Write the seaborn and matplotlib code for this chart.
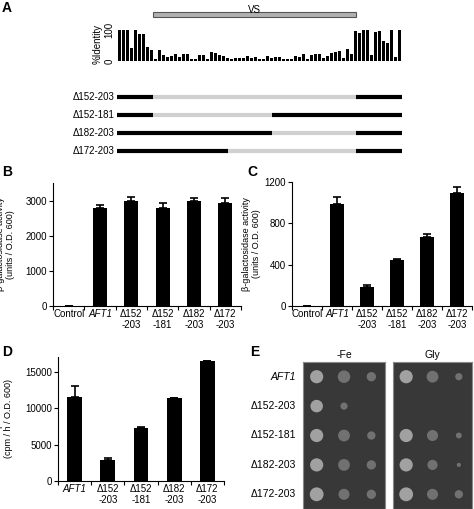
import numpy as np
import pandas as pd
import matplotlib
matplotlib.use("Agg")
import matplotlib.pyplot as plt
import seaborn as sns

# --- data ---
identity = [100, 100, 100, 40, 98, 85, 85, 45, 35, 5, 35, 18, 12, 15, 22, 12, 22, 22, 5, 5,
            18, 18, 5, 28, 25, 18, 15, 8, 5, 10, 10, 10, 15, 8, 12, 5, 5, 15, 8, 12, 12, 5,
            5, 5, 15, 12, 22, 5, 18, 22, 22, 8, 15, 25, 28, 32, 10, 38, 22, 95, 88, 100, 100,
            18, 92, 95, 65, 58, 100, 12, 100]
constructs = ["Δ152-203", "Δ152-181", "Δ182-203", "Δ172-203"]
# deleted region per construct (fraction of drawn line)
deleted = [(0.125, 0.84), (0.125, 0.545), (0.545, 0.84), (0.39, 0.84)]
vs_span = (0.125, 0.84)

cats_bc = ["Control", "AFT1", "Δ152\n-203", "Δ152\n-181", "Δ182\n-203", "Δ172\n-203"]
b_vals = [10, 2780, 3000, 2800, 3000, 2930]
b_err = [0, 80, 100, 120, 80, 150]
c_vals = [0, 985, 180, 445, 665, 1095]
c_err = [0, 70, 25, 10, 35, 55]
cats_d = ["AFT1", "Δ152\n-203", "Δ152\n-181", "Δ182\n-203", "Δ172\n-203"]
d_vals = [11500, 2900, 7300, 11350, 16500]
d_err = [1500, 250, 80, 50, 0]

strains_e = ["AFT1", "Δ152-203", "Δ152-181", "Δ182-203", "Δ172-203"]
# spot sizes per dilution (3 dilutions), 0 = no growth
spots_fe = [[1.0, 0.9, 0.5], [0.9, 0.3, 0.0], [1.0, 0.8, 0.4], [1.0, 0.8, 0.5], [1.1, 0.7, 0.5]]
spots_gly = [[1.0, 0.8, 0.3], [0.0, 0.0, 0.0], [1.0, 0.7, 0.2], [1.0, 0.6, 0.1], [1.1, 0.7, 0.4]]

plt.rcParams['font.family'] = ['Liberation Sans', 'DejaVu Sans']
W, H = 474, 509
fig = plt.figure(figsize=(W / 100, H / 100), dpi=100)


def px(x0, y0, x1, y1):
    return [x0 / W, 1 - y1 / H, (x1 - x0) / W, (y1 - y0) / H]


# ---------- A ----------
fig.text(2 / W, 1 - 8 / H, "A", fontsize=10, fontweight='bold', va='center')
axh = fig.add_axes(px(117, 28, 401, 61))
sns.barplot(x=list(range(len(identity))), y=identity, color='black', width=0.75,
            ax=axh, saturation=1)
axh.set_ylim(0, 105)
axh.set_xlim(-0.5, len(identity) - 0.5)
axh.set_xticks([])
axh.set_yticks([0, 100])
axh.set_yticklabels(["0", "100"], rotation=90, va='center', fontsize=7)
axh.tick_params(axis='y', length=0, pad=2)
axh.set_ylabel("%Identity", fontsize=7, labelpad=1)
for s in axh.spines.values():
    s.set_visible(False)

axv = fig.add_axes(px(117, 8, 401, 20))
axv.set_xlim(0, 1)
axv.set_ylim(0, 1)
axv.axis('off')
axv.add_patch(plt.Rectangle((vs_span[0], 0.25), vs_span[1] - vs_span[0], 0.4,
                            facecolor='#b0b0b0', edgecolor='#555555', lw=0.8))
axv.text(0.5 * (vs_span[0] + vs_span[1]), 0.85, "VS", ha='center', va='center', fontsize=7)

axc = fig.add_axes(px(117, 88, 402, 160))
axc.set_xlim(0, 1)
axc.set_ylim(len(constructs) - 0.5, -0.5)
axc.axis('off')
for i, (name, (d0, d1)) in enumerate(zip(constructs, deleted)):
    axc.plot([0, d0], [i, i], color='black', lw=3, solid_capstyle='butt')
    axc.plot([d0, d1], [i, i], color='#d0d0d0', lw=3, solid_capstyle='butt')
    axc.plot([d1, 1], [i, i], color='black', lw=3, solid_capstyle='butt')
    axc.text(-0.01, i, name, ha='right', va='center', fontsize=7)


# ---------- bar panels ----------
def bar_panel(rect, cats, vals, errs, ylim, yticks, ylabel, letter, lpos, label_x):
    ax = fig.add_axes(px(*rect))
    df = pd.DataFrame({"cat": cats, "val": vals})
    sns.barplot(data=df, x="cat", y="val", color='black', saturation=1, width=0.45, ax=ax)
    ax.errorbar(range(len(vals)), vals, yerr=[np.zeros(len(errs)), errs], fmt='none',
                ecolor='black', elinewidth=1.2, capsize=3, capthick=1.2)
    ax.set_ylim(*ylim)
    ax.set_xlim(-0.5, len(cats) - 0.5)
    ax.set_yticks(yticks)
    ax.tick_params(axis='y', labelsize=7, length=3, width=0.8, pad=1.5)
    ax.set_xticks(np.arange(len(cats) + 1) - 0.5, minor=True)
    ax.tick_params(axis='x', which='minor', length=3, width=0.8)
    ax.tick_params(axis='x', which='major', length=0, labelsize=7, pad=2)
    for t in ax.get_xticklabels():
        if t.get_text() == "AFT1":
            t.set_style('italic')
    ax.set_xlabel("")
    ax.set_ylabel(ylabel, fontsize=6.5, linespacing=1.1)
    # place the y label by pixel so it stays inside the figure
    bb = ax.get_position()
    ax.yaxis.set_label_coords((label_x / W - bb.x0) / bb.width, 0.5)
    for s in ['top', 'right']:
        ax.spines[s].set_visible(False)
    for s in ['left', 'bottom']:
        ax.spines[s].set_linewidth(0.8)
    fig.text(lpos[0] / W, 1 - lpos[1] / H, letter, fontsize=10, fontweight='bold', va='center')
    return ax


bar_panel((53, 183, 241, 306), cats_bc, b_vals, b_err, (0, 3500),
          [0, 1000, 2000, 3000], "β-galactosidase activity\n(units / O.D. 600)", "B",
          (2, 172), 15)
bar_panel((292, 182, 472, 306), cats_bc, c_vals, c_err, (0, 1200),
          [0, 400, 800, 1200], "β-galactosidase activity\n(units / O.D. 600)", "C",
          (247, 172), 261)
bar_panel((58, 357, 224, 481), cats_d, d_vals, d_err, (0, 17000),
          [0, 5000, 10000, 15000], "Iron uptake rate\n(cpm / h / O.D. 600)", "D",
          (2, 352), 13)

# ---------- E ----------
fig.text(250 / W, 1 - 352 / H, "E", fontsize=10, fontweight='bold', va='center')
for rect, title, spots in [((303, 362, 385, 509), "-Fe", spots_fe),
                           ((393, 362, 472, 509), "Gly", spots_gly)]:
    ax = fig.add_axes(px(*rect))
    ax.set_facecolor('#383838')
    ax.set_xlim(-0.5, 2.5)
    ax.set_ylim(len(strains_e) - 0.5, -0.5)
    ax.set_xticks([])
    ax.set_yticks([])
    for s in ax.spines.values():
        s.set_color('#888888')
    for r, row in enumerate(spots):
        for c, sz in enumerate(row):
            if sz > 0:
                ax.scatter(c, r, s=90 * sz, color='#a8a8a8' if c == 0 else '#8a8a8a',
                           edgecolor='none', alpha=0.95 if c == 0 else 0.7)
    ax.set_title(title, fontsize=7.5, pad=3)
    if title == "-Fe":
        for r, name in enumerate(strains_e):
            ax.text(-0.75, r, name, ha='right', va='center', fontsize=7.5,
                    style='italic' if name == "AFT1" else 'normal')

fig.savefig("out.png", dpi=100)
